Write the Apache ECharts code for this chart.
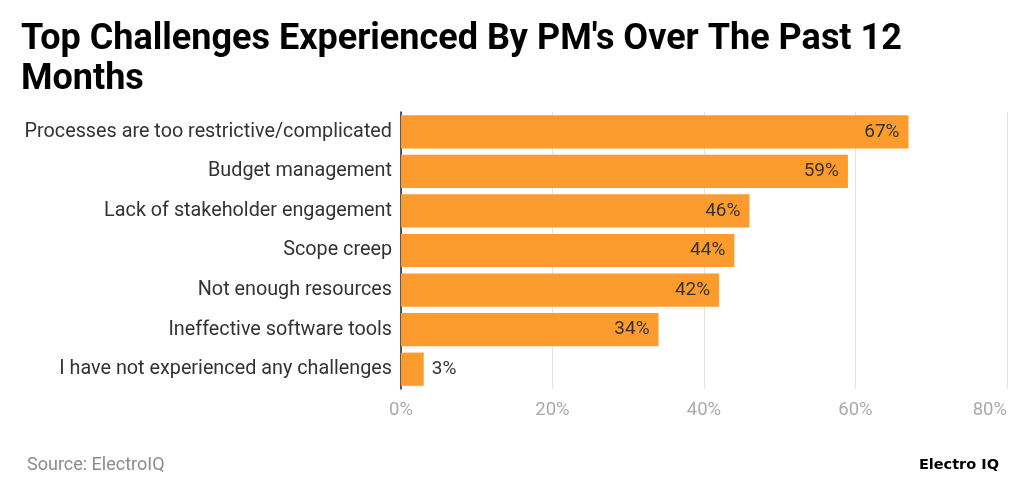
<!DOCTYPE html>
<html><head><meta charset="utf-8">
<script src="https://cdn.jsdelivr.net/npm/echarts@6/dist/echarts.min.js"></script>
<style>html,body{margin:0;padding:0;background:#fff}#c{width:1024px;height:487px}</style>
</head><body><div id="c"></div>
<script>
const categories = [
  "Processes are too restrictive/complicated",
  "Budget management",
  "Lack of stakeholder engagement",
  "Scope creep",
  "Not enough resources",
  "Ineffective software tools",
  "I have not experienced any challenges"
];
const values = [67, 59, 46, 44, 42, 34, 3];
const xTicks = [0, 20, 40, 60, 80];

const chart = echarts.init(document.getElementById('c'));
const data = values.map(v => ({
  value: v,
  label: v < 10 ? {position: 'right', distance: 8} : {position: 'insideRight', distance: 9}
}));
chart.setOption({
  animation: false,
  title: [{
    text: "Top Challenges Experienced By PM's Over The Past 12\nMonths",
    left: 16, top: 15,
    textStyle: {fontFamily: 'Roboto', fontWeight: 'bold', fontSize: 36, lineHeight: 40, color: '#000'}
  }, {
    text: 'Source: ElectroIQ', left: 22, top: 451,
    textStyle: {fontFamily: 'Roboto', fontWeight: 'normal', fontSize: 18, color: '#8c8c8c'}
  }, {
    text: 'Electro IQ', right: 20, top: 453,
    textStyle: {fontFamily: 'DejaVu Sans', fontWeight: 'bold', fontSize: 14.5, color: '#000'}
  }],
  grid: {left: 401, right: 17, top: 112, bottom: 98, containLabel: false},
  xAxis: {
    type: 'value', min: xTicks[0], max: xTicks[xTicks.length - 1], interval: 20,
    axisLabel: {formatter: '{value}%', color: '#aaa', fontFamily: 'Roboto', fontSize: 18.5, margin: 12, alignMaxLabel: 'right'},
    splitLine: {lineStyle: {color: '#e3e3e3', width: 1}},
    axisLine: {show: false}, axisTick: {show: false}
  },
  yAxis: {
    type: 'category', data: categories, inverse: true,
    axisLabel: {color: '#333', fontFamily: 'Roboto', fontSize: 19.8, margin: 9},
    axisLine: {show: true, lineStyle: {color: '#222', width: 1.5}},
    axisTick: {show: false}
  },
  series: [{
    type: 'bar', data: data, barCategoryGap: '16%',
    itemStyle: {color: '#fd9c2e'},
    label: {show: true, formatter: '{c}%', color: '#333', fontFamily: 'Roboto', fontSize: 19}
  }]
});
</script></body></html>
